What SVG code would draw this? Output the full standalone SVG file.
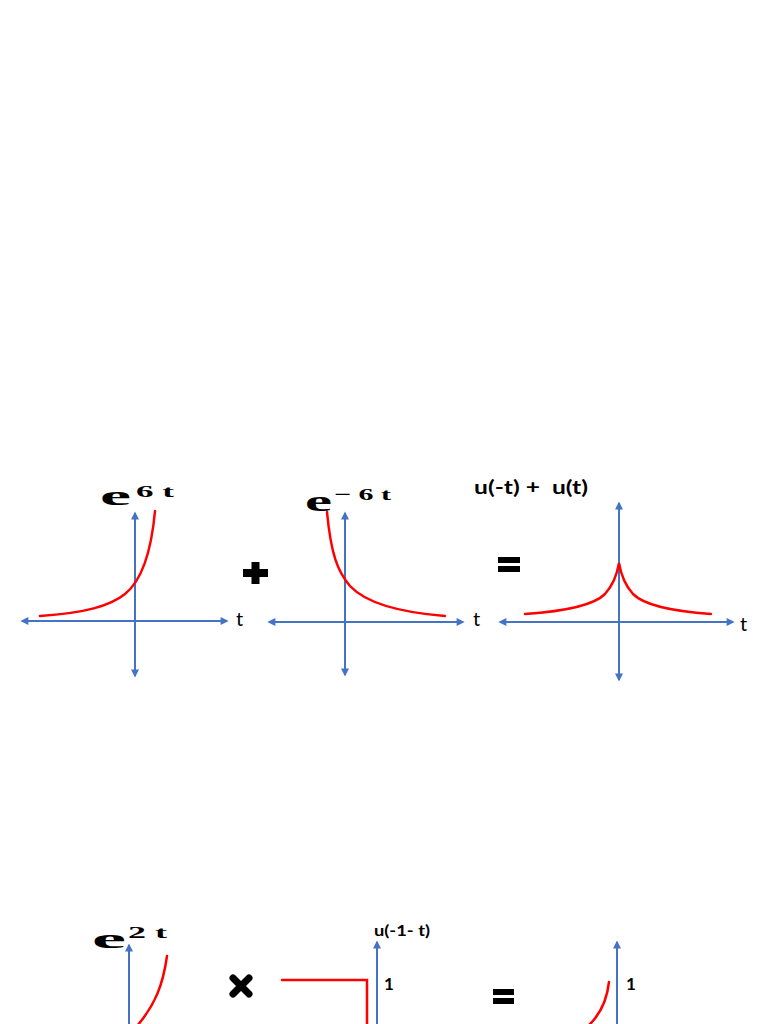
<svg xmlns="http://www.w3.org/2000/svg" width="768" height="1024" viewBox="0 0 768 1024">
<style>
.ax{stroke:#4472C4;stroke-width:2;fill:none;marker-start:url(#ah);marker-end:url(#ah)}
.ax1{stroke:#4472C4;stroke-width:2;fill:none;marker-end:url(#ah)}
.cv{stroke:#FF0000;stroke-width:2.5;fill:none;stroke-linecap:round}
.t{font-family:Lato,"Liberation Sans",sans-serif;font-size:20px;fill:#000}
.lb{font-family:Lato,"Liberation Sans",sans-serif;font-weight:bold;fill:#000}
.ee{font-family:"Liberation Serif",serif;font-weight:bold;fill:#000}
.op{fill:#000}
</style>
<defs>
<marker id="ah" viewBox="0 0 10 10" refX="8" refY="5" markerWidth="9" markerHeight="8" markerUnits="userSpaceOnUse" orient="auto-start-reverse">
<path d="M0,0 L10,5 L0,10 z" fill="#4472C4"/>
</marker>
</defs>
<rect width="768" height="1024" fill="#fff"/>

<g id="graph1">
<line class="ax" x1="22" y1="621" x2="227" y2="621"/>
<line class="ax" x1="135" y1="676" x2="135" y2="513"/>
<path class="cv" d="M40,616 C85,613 110,606 125,594 C140,582 151,555 155,511"/>
<text class="t" x="236" y="626">t</text>
<text class="ee" x="100" y="505" font-size="27" textLength="31" lengthAdjust="spacingAndGlyphs">e</text>
<text class="ee" x="136" y="497" font-size="17" textLength="38" lengthAdjust="spacingAndGlyphs">6 t</text>
</g>

<g id="plus">
<rect class="op" x="243" y="569" width="25" height="8"/>
<rect class="op" x="251.5" y="562" width="8" height="22"/>
</g>

<g id="graph2">
<line class="ax" x1="269" y1="622" x2="463" y2="622"/>
<line class="ax" x1="345" y1="675" x2="345" y2="513"/>
<path class="cv" d="M327,512 C331,555 338,572 350,586 C365,602 395,612 445,616"/>
<text class="t" x="473" y="626">t</text>
<text class="ee" x="305" y="511" font-size="29" textLength="27" lengthAdjust="spacingAndGlyphs">e</text>
<text class="ee" x="334" y="500" font-size="17" textLength="57" lengthAdjust="spacingAndGlyphs">− 6 t</text>
</g>

<g id="equals1">
<rect class="op" x="498" y="557" width="22" height="6"/>
<rect class="op" x="498" y="566" width="22" height="6"/>
</g>

<g id="graph3">
<line class="ax" x1="500" y1="622" x2="733" y2="622"/>
<line class="ax" x1="619" y1="680" x2="619" y2="503"/>
<path class="cv" d="M525,614 C570,611 595,604 605,594 C613,585 617,575 619,563 C621,575 625,585 633,594 C643,604 668,611 711,614"/>
<text class="t" x="740" y="631">t</text>
<text class="lb" x="474" y="494" font-size="18" textLength="114" lengthAdjust="spacingAndGlyphs" xml:space="preserve">u(-t) +  u(t)</text>
</g>

<g id="graph4">
<line class="ax1" x1="129" y1="1030" x2="129" y2="945"/>
<path class="cv" d="M167,956 C163,985 155,1005 137,1026"/>
<text class="ee" x="92" y="948" font-size="27" textLength="34" lengthAdjust="spacingAndGlyphs">e</text>
<text class="ee" x="128" y="938" font-size="17" textLength="39" lengthAdjust="spacingAndGlyphs">2 t</text>
</g>

<g id="times">
<line x1="233" y1="978" x2="249" y2="994" stroke="#000" stroke-width="7" stroke-linecap="round"/>
<line x1="249" y1="978" x2="233" y2="994" stroke="#000" stroke-width="7" stroke-linecap="round"/>
</g>

<g id="graph5">
<line class="ax1" x1="377" y1="1030" x2="377" y2="942"/>
<path class="cv" d="M282,980 L367,980 L367,1030" stroke-linecap="butt"/>
<text class="lb" x="374" y="936" font-size="16" textLength="56" lengthAdjust="spacingAndGlyphs">u(-1- t)</text>
<text class="lb" x="384" y="990" font-size="17">1</text>
</g>

<g id="equals2">
<rect class="op" x="493" y="989" width="21" height="6"/>
<rect class="op" x="493" y="998" width="21" height="6"/>
</g>

<g id="graph6">
<line class="ax1" x1="617" y1="1030" x2="617" y2="942"/>
<path class="cv" d="M609,982 C607,1000 600,1015 588,1026"/>
<text class="lb" x="626" y="990" font-size="17">1</text>
</g>
</svg>
